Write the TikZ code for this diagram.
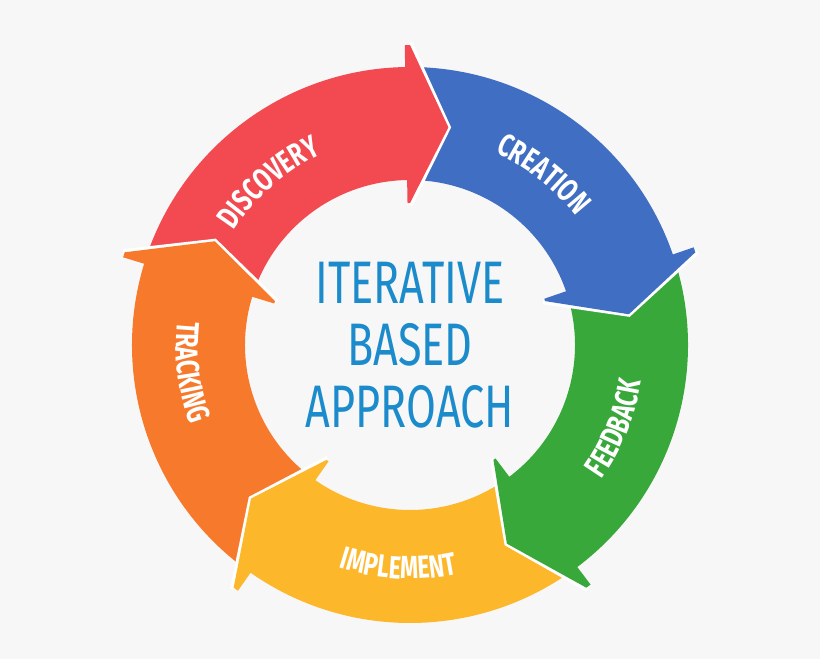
\documentclass[tikz,border=0pt]{standalone}
\usepackage{fontspec}
\usetikzlibrary{decorations.text}
\newfontfamily\cond[FakeStretch=0.72]{Fira Sans}
\definecolor{bg}{HTML}{F7F7F7}
\definecolor{cRed}{HTML}{F24A50}
\definecolor{cBlue}{HTML}{3F6EC2}
\definecolor{cGreen}{HTML}{38A83A}
\definecolor{cYellow}{HTML}{FDB72B}
\definecolor{cOrange}{HTML}{F7792B}
\definecolor{cText}{HTML}{1C8BCB}
\newcommand\arrbody[2]{%
\fill[#1] (#2+72:278pt) arc[start angle=#2+72,end angle=#2,radius=278pt] -- (#2:165pt) arc[start angle=#2,end angle=#2+72,radius=165pt] -- cycle;}
\newcommand\arrhead[2]{%
\draw[white,line width=5pt,line join=miter] (#2:302pt) -- (#2-10:221pt) -- (#2:140pt);
\fill[#1] (#2+1:300pt) -- (#2:300pt) -- (#2-10:221pt) -- (#2:142pt) -- (#2+1:142pt) -- cycle;}
\tikzset{lbl/.style={decorate,decoration={text along path,text align=center,text color=white}}}
\begin{document}
\begin{tikzpicture}
\fill[bg] (0,0) rectangle (820pt,659pt);
\useasboundingbox (0,0) rectangle (820pt,659pt);
\begin{scope}[shift={(410pt,314pt)}]
\arrbody{cRed}{90}
\arrbody{cBlue}{18}
\arrbody{cGreen}{-54}
\arrbody{cYellow}{-126}
\arrbody{cOrange}{-198}
\arrhead{cRed}{90}
\arrhead{cBlue}{18}
\arrhead{cGreen}{-54}
\arrhead{cYellow}{-126}
\arrhead{cOrange}{-198}
% labels
\path[lbl,decoration={text={|\cond\bfseries\fontsize{32}{32}\selectfont|DISCOVERY}}]
  (171:210pt) arc[start angle=171,end angle=91,radius=210pt];
\path[lbl,decoration={text={|\cond\bfseries\fontsize{32}{32}\selectfont|CREATION}}]
  (92:210pt) arc[start angle=92,end angle=12,radius=210pt];
\path[lbl,decoration={text={|\cond\bfseries\fontsize{32}{32}\selectfont|FEEDBACK}}]
  (-62:234pt) arc[start angle=-62,end angle=18,radius=234pt];
\path[lbl,decoration={text={|\cond\bfseries\fontsize{32}{32}\selectfont|IMPLEMENT}}]
  (-133:234pt) arc[start angle=-133,end angle=-53,radius=234pt];
\path[lbl,decoration={text={|\cond\bfseries\fontsize{32}{32}\selectfont|TRACKING}}]
  (147:234pt) arc[start angle=147,end angle=227,radius=234pt];
\node[text=cText,align=center,font=\cond\fontsize{60}{62}\selectfont] (c) at (0,0) {ITERATIVE\\BASED\\APPROACH};
\end{scope}
\end{tikzpicture}
\end{document}
